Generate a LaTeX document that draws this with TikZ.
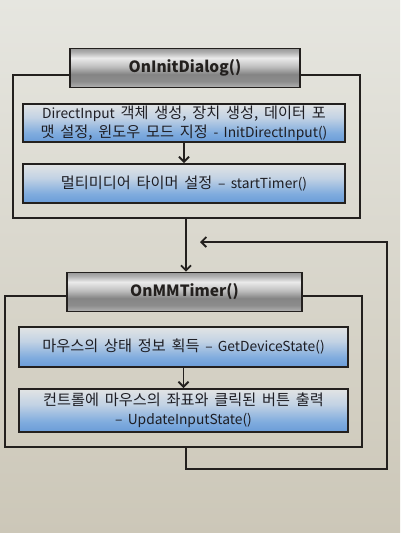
\documentclass[tikz,border=0pt]{standalone}
\usepackage{fontspec}
\setmainfont{Noto Sans CJK KR}[WordSpace=1.7]
\usetikzlibrary{arrows.meta,calc}
\definecolor{bgtop}{RGB}{230,230,224}
\definecolor{bgbot}{RGB}{204,199,184}
\definecolor{ink}{RGB}{35,32,30}
\definecolor{txt}{RGB}{30,30,36}
\pgfdeclareverticalshading{metal}{100bp}{%
  color(0bp)=(black!30);
  color(25bp)=(black!30);
  color(33bp)=(black!45);
  color(42bp)=(black!48);
  color(52bp)=(black!25);
  color(63bp)=(black!8);
  color(70bp)=(black!30);
  color(75bp)=(black!40);
  color(100bp)=(black!40)}
\definecolor{bl1}{RGB}{106,156,216}
\definecolor{bl2}{RGB}{128,172,222}
\definecolor{bl3}{RGB}{194,210,228}
\definecolor{bl4}{RGB}{226,228,228}
\pgfdeclareverticalshading{bluebox}{100bp}{%
  color(0bp)=(bl1);
  color(25bp)=(bl1);
  color(37bp)=(bl2);
  color(57bp)=(bl3);
  color(75bp)=(bl4);
  color(100bp)=(bl4)}
\newcommand\la[1]{{\fontsize{13.8}{19}\selectfont #1}}
\tikzset{
  hdr/.style={draw=ink, line width=1.8pt, shading=metal, minimum height=39pt,
    inner sep=0pt, font=\fontsize{15.5}{18}\selectfont\bfseries, text=ink},
  stepbox/.style={draw=ink, line width=2pt, shading=bluebox, inner sep=0pt,
    align=center, text=txt, font=\fontsize{15.2}{19}\selectfont},
  frame/.style={draw=ink, line width=1.6pt},
  arr/.style={draw=ink, line width=1.8pt, -{Straight Barb[length=5pt,width=10pt,line width=1.8pt]}}
}
\begin{document}
\begin{tikzpicture}[x=1pt,y=-1pt]
\shade[top color=bgtop, bottom color=bgbot] (0,0) rectangle (400,533);
\useasboundingbox (0,0) rectangle (400,533);
% top group
\node[hdr, minimum width=230pt] (h1) at (185,68) {OnInitDialog()};
\node[stepbox, minimum width=322pt, minimum height=38pt] (b1) at (184,123)
  {\la{DirectInput} 객체 생성, 장치 생성, 데이터 포\\맷 설정, 윈도우 모드 지정 \la{- InitDirectInput()}};
\node[stepbox, minimum width=322pt, minimum height=39pt] (b2) at (184,183.5)
  {멀티미디어 타이머 설정 \la{– startTimer()}};
\coordinate (f1tl) at (13,75);
\coordinate (f1br) at (360,218);
\draw[frame] (h1.west |- f1tl) -- (f1tl) |- (f1br) |- (h1.east |- f1tl);
\draw[arr] (b1.south) -- (b2.north);
% bottom group
\node[hdr, minimum width=235pt] (h2) at (184.5,292) {OnMMTimer()};
\node[stepbox, minimum width=329pt, minimum height=40pt] (b3) at (183.5,347)
  {마우스의 상태 정보 획득 \la{– GetDeviceState()}};
\node[stepbox, minimum width=329pt, minimum height=43pt] (b4) at (183.5,410.5)
  {컨트롤에 마우스의 좌표와 클릭된 버튼 출력\\\la{– UpdateInputState()}};
\coordinate (f2tl) at (5,296);
\coordinate (f2br) at (362,447);
\draw[frame] (h2.west |- f2tl) -- (f2tl) |- (f2br) |- (h2.east |- f2tl);
\draw[arr] (b3.south) -- (b4.north);
% connectors between groups
\coordinate (f1b) at (186,218);
\draw[arr] (f1b) -- (f1b |- h2.north);
\coordinate (f2b) at (186,447);
\coordinate (lp) at (387,469);
\coordinate (lt) at (200,242);
\draw[arr] (f2b) -- (f2b |- lp) -- (lp) -- (lp |- lt) -- (lt);
\end{tikzpicture}
\end{document}
